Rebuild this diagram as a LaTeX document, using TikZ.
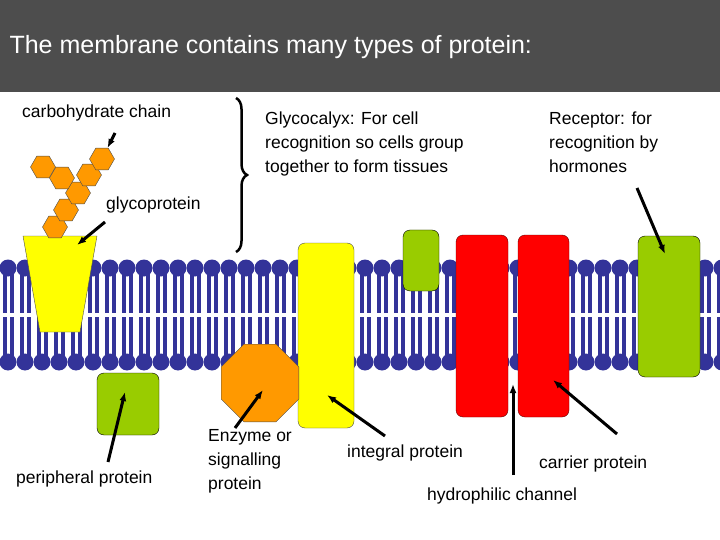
\documentclass[tikz,border=0pt]{standalone}
\usepackage{fontspec}
\setmainfont{Liberation Sans}
\usetikzlibrary{shapes.geometric,decorations.pathreplacing,arrows.meta}
\definecolor{LipidBlue}{RGB}{51,51,153}
\definecolor{TitleGrey}{RGB}{77,77,77}
\definecolor{ProtGreen}{RGB}{153,204,0}
\definecolor{ProtOrange}{RGB}{255,153,0}
\definecolor{ProtYellow}{RGB}{255,255,0}
\definecolor{ProtRed}{RGB}{255,0,0}
\begin{document}
\begin{tikzpicture}[x=1pt,y=-1pt,font=\fontsize{17.5}{24}\selectfont,
    prot/.style n args={2}{draw=#2,fill=#1,rounded corners=7pt,thin},
    sugar/.style={regular polygon,regular polygon sides=6,draw=black!70,fill=ProtOrange,minimum size=25pt,inner sep=0pt,thin},
    pt/.style={-{Latex[length=9pt,width=7pt]},line width=3pt},
    lbl/.style={align=left,inner sep=0pt}]
    \useasboundingbox (0,0) rectangle (720,540);
    \fill[TitleGrey] (0,0) rectangle (720,92);
    \node[white,anchor=west,font=\fontsize{25}{28}\selectfont] (title) at (6,47) {The membrane contains many types of protein:};
    % lipid bilayer
    \foreach \x in {0,17,...,720} {
       \fill[LipidBlue] (\x+8,268) circle (8.5);
       \fill[LipidBlue] (\x+8,362) circle (8.5);
       \fill[LipidBlue] (\x+2.5,270) rectangle (\x+6.5,313);
       \fill[LipidBlue] (\x+9.5,270) rectangle (\x+13.5,313);
       \fill[LipidBlue] (\x+2.5,317) rectangle (\x+6.5,360);
       \fill[LipidBlue] (\x+9.5,317) rectangle (\x+13.5,360);
    }
    % proteins
    \draw[fill=ProtYellow,draw=black!70] (23,236) -- (97,236) -- (80,332) -- (40,332) -- cycle;
    \coordinate (glyco) at (77,245);
    \foreach \i/\x/\y in {1/55/227,2/66/210,3/78/193,4/62/178,5/43/167,6/89/175,7/102/159}
       \node[sugar] (s\i) at (\x,\y) {};
    \draw[prot={ProtYellow}{black!70}] (298,243) rectangle (354,428);
    \draw[prot={ProtGreen}{black}] (403,230) rectangle (439,291);
    \draw[prot={ProtRed}{black!60!red}] (456,235) rectangle (508,417);
    \draw[prot={ProtRed}{black!60!red}] (518,235) rectangle (569,417);
    \draw[prot={ProtGreen}{black}] (638,236) rectangle (700,377);
    \draw[prot={ProtGreen}{black}] (97,373) rectangle (159,435);
    \node[regular polygon,regular polygon sides=8,draw=black!70,fill=ProtOrange,minimum size=84pt,inner sep=0pt] (enz) at (260,383) {};
    \draw[decorate,decoration={brace,amplitude=11pt},line width=2.5pt] (236,98) -- (236,252);
    % labels
    \node[lbl,anchor=west] (carb) at (22,113) {carbohydrate chain};
    \node[lbl,anchor=west] (gp) at (106,205) {glycoprotein};
    \node[lbl,anchor=north west] (calyx) at (265,112) {Glycocalyx: For cell\\recognition so cells group\\together to form tissues};
    \node[lbl,anchor=north west] (rec) at (549,112) {Receptor: for\\recognition by\\hormones};
    \node[lbl,anchor=west] (peri) at (16,479) {peripheral protein};
    \node[lbl,anchor=north west] (enzl) at (208,429) {Enzyme or\\signalling\\protein};
    \node[lbl,anchor=west] (integ) at (347,453) {integral protein};
    \node[lbl,anchor=west] (carr) at (539,464) {carrier protein};
    \node[lbl,anchor=west] (hyd) at (427,496) {hydrophilic channel};
    % pointers
    \coordinate (pA) at (115,133); \draw[pt] (pA) -- (s7);
    \coordinate (pB) at (105,222); \draw[pt] (pB) -- (glyco);
    \coordinate (pC) at (637,188); \coordinate (pC2) at (665,254); \draw[pt] (pC) -- (pC2);
    \coordinate (pD) at (108,462); \coordinate (pD2) at (125,392); \draw[pt] (pD) -- (pD2);
    \coordinate (pE) at (235,428); \coordinate (pE2) at (263,390); \draw[pt] (pE) -- (pE2);
    \coordinate (pF) at (385,436); \coordinate (pF2) at (327,395); \draw[pt] (pF) -- (pF2);
    \coordinate (pG) at (513,475); \coordinate (pG2) at (513,384); \draw[pt] (pG) -- (pG2);
    \coordinate (pH) at (617,434); \coordinate (pH2) at (553,380); \draw[pt] (pH) -- (pH2);
\end{tikzpicture}
\end{document}
